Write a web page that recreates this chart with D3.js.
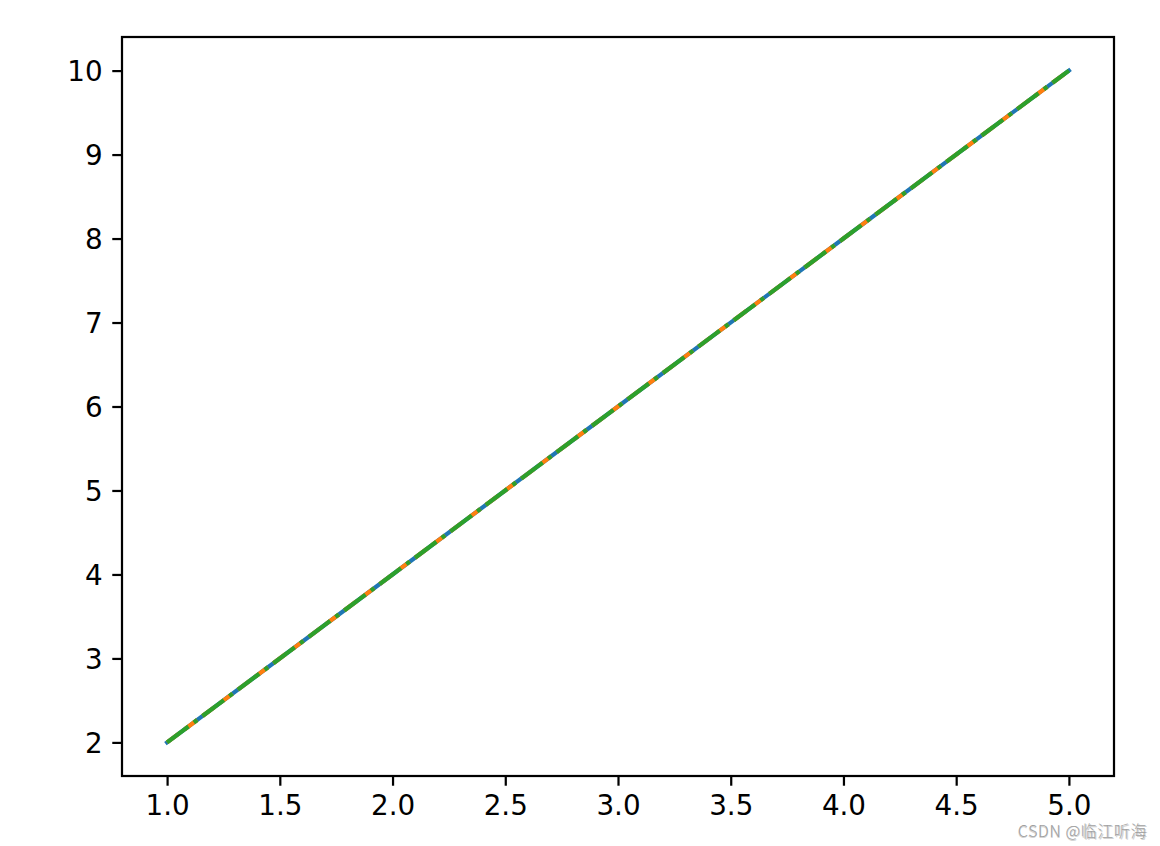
<!DOCTYPE html>
<html>
<head>
<meta charset="utf-8">
<script src="https://cdn.jsdelivr.net/npm/d3@7"></script>
<style>
  body { margin: 0; background: #fff; }
  svg { display: block; }
  .tick text { font-family: "DejaVu Sans", sans-serif; }
</style>
</head>
<body>
<div id="chart"></div>
<script>
// data: three lines on the same points, different line styles
const xValues = [1, 2, 3, 4, 5];
const yValues = [2, 4, 6, 8, 10];
const seriesNames = ["solid", "dashed", "dashdot"];
const seriesColors = ["#1f77b4", "#ff7f0e", "#2ca02c"];
const xTicks = [1.0, 1.5, 2.0, 2.5, 3.0, 3.5, 4.0, 4.5, 5.0];
const yTicks = [2, 3, 4, 5, 6, 7, 8, 9, 10];

const W = 1160, H = 846;
const pt = 200 / 72; // figure saved at 200 dpi
const margin = {left: 122, top: 37, right: 1160 - 1114, bottom: 846 - 776};
const lw = 1.5 * pt;

// matplotlib dash patterns (in units of linewidth)
const dashes = {
  solid: null,
  dashed: [3.7, 1.6].map(d => d * lw).join(","),
  dashdot: [6.4, 1.6, 1, 1.6].map(d => d * lw).join(",")
};

const svg = d3.select("#chart").append("svg")
  .attr("width", W)
  .attr("height", H);

const x = d3.scaleLinear()
  .domain([0.8, 5.2])
  .range([margin.left, W - margin.right]);

const y = d3.scaleLinear()
  .domain([1.6, 10.4])
  .range([H - margin.bottom, margin.top]);

const pts = xValues.map((v, i) => [v, yValues[i]]);
const line = d3.line().x(d => x(d[0])).y(d => y(d[1]));

svg.selectAll("path.series")
  .data(seriesNames)
  .join("path")
  .attr("class", "series")
  .attr("d", line(pts))
  .attr("fill", "none")
  .attr("stroke", (d, i) => seriesColors[i])
  .attr("stroke-width", lw)
  .attr("stroke-linecap", d => d === "solid" ? "square" : "butt")
  .attr("stroke-dasharray", d => dashes[d]);

const fs = 10 * pt;
const tickLen = 3.5 * pt;

const xAxis = svg.append("g")
  .attr("transform", `translate(0,${H - margin.bottom})`)
  .call(d3.axisBottom(x).tickValues(xTicks).tickFormat(d3.format(".1f"))
    .tickSize(tickLen).tickPadding(3.5 * pt));
xAxis.select(".domain").remove();
xAxis.selectAll(".tick line").attr("stroke", "#000").attr("stroke-width", 0.8 * pt);
xAxis.selectAll(".tick text").attr("font-size", fs).attr("fill", "#000")
  .attr("dy", "0.71em");

const yAxis = svg.append("g")
  .attr("transform", `translate(${margin.left},0)`)
  .call(d3.axisLeft(y).tickValues(yTicks).tickFormat(d3.format("d"))
    .tickSize(tickLen).tickPadding(3.5 * pt));
yAxis.select(".domain").remove();
yAxis.selectAll(".tick line").attr("stroke", "#000").attr("stroke-width", 0.8 * pt);
yAxis.selectAll(".tick text").attr("font-size", fs).attr("fill", "#000")
  .attr("dy", "0.36em");

// frame
svg.append("rect")
  .attr("x", margin.left)
  .attr("y", margin.top)
  .attr("width", W - margin.left - margin.right)
  .attr("height", H - margin.top - margin.bottom)
  .attr("fill", "none")
  .attr("stroke", "#000")
  .attr("stroke-width", 0.8 * pt);

// watermark
const wm = "CSDN @临江听海";
svg.append("text")
  .attr("x", 1148).attr("y", 838)
  .attr("text-anchor", "end")
  .attr("font-family", "'Noto Sans CJK SC', sans-serif")
  .attr("font-size", 16)
  .attr("letter-spacing", 0.6)
  .attr("fill", "#d4d4d4")
  .text(wm);
svg.append("text")
  .attr("x", 1147).attr("y", 837)
  .attr("text-anchor", "end")
  .attr("font-family", "'Noto Sans CJK SC', sans-serif")
  .attr("font-size", 16)
  .attr("font-weight", 300)
  .attr("letter-spacing", 0.6)
  .attr("fill", "#a0a0a0")
  .text(wm);
</script>
</body>
</html>
